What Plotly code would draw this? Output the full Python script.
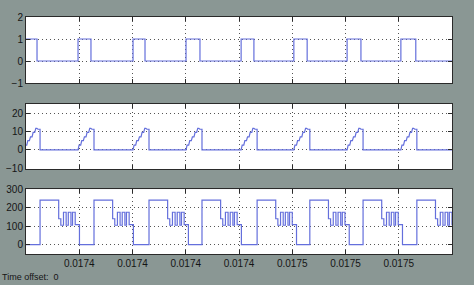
import plotly.graph_objects as go

# ---- data (x in grid units: 0..8, gridlines at 1..7) ----
TICK_POS = [1, 2, 3, 4, 5, 6, 7]
TICK_TEXT = ["0.0174", "0.0174", "0.0174", "0.0174", "0.0175", "0.0175", "0.0175"]

# panel 1: pulse rising / falling edges
RISE = [-0.036, 0.977, 2.01, 3.005, 4.04, 5.03, 6.03, 7.04]
FALL = [0.207, 1.22, 2.235, 3.267, 4.28, 5.28, 6.29, 7.32]

# panel 2: staircase ramp shape, relative to each rising edge
RAMP_T = [0.00, 0.02, 0.05, 0.07, 0.10, 0.12, 0.15, 0.17, 0.20, 0.22, 0.24, 0.26, 0.30, 0.30]
RAMP_Y = [0.0, 2.5, 2.5, 5.0, 5.0, 7.0, 7.0, 9.5, 9.5, 11.7, 11.7, 11.2, 11.2, 0.0]

# panel 3: step levels and switching times, relative to each rising edge
P3_T = [0.30, 0.65, 0.69, 0.74, 0.79, 0.83, 0.88, 0.91, 0.96, 1.04]
P3_Y = [240, 140, 105, 175, 105, 175, 105, 175, 108, 0]

LINE = "#646fdc"
BG = "#8a9794"

# ---- build traces ----
x1, y1 = [0.0], [1.0]
for r, f in zip(RISE, FALL):
    if r > 0:
        x1 += [r, r]
        y1 += [0, 1]
    x1 += [f, f]
    y1 += [1, 0]
x1.append(8.0)
y1.append(0)

x2, y2 = [], []
for r in RISE:
    x2 += [r + t for t in RAMP_T]
    y2 += RAMP_Y
x2.append(8.0)
y2.append(0)

x3, y3 = [0.0], [0]
for r in RISE:
    x3 += [r + t for t in P3_T]
    y3 += P3_Y

fig = go.Figure()
lw = 1.2
fig.add_trace(go.Scatter(x=x1, y=y1, mode="lines", line=dict(color=LINE, width=lw), xaxis="x", yaxis="y"))
fig.add_trace(go.Scatter(x=x2, y=y2, mode="lines", line=dict(color=LINE, width=lw), xaxis="x2", yaxis="y2"))
fig.add_trace(go.Scatter(x=x3, y=y3, mode="lines", line=dict(color=LINE, width=lw, shape="hv"), xaxis="x3", yaxis="y3"))

font = dict(family="Liberation Sans, Arial, sans-serif", size=10, color="#151515")
common_ax = dict(showline=True, linecolor="#2a2a2a", linewidth=1, mirror="ticks",
                 ticks="inside", ticklen=4, tickcolor="#2a2a2a",
                 showgrid=True, gridcolor="#555555", griddash="1px,3px", gridwidth=1,
                 zeroline=False, tickfont=font, fixedrange=True, automargin=False)

xcommon = dict(common_ax, range=[0, 8], tickvals=TICK_POS, ticktext=TICK_TEXT)
fig.update_layout(
    width=474, height=285,
    margin=dict(l=26, r=22, t=17, b=31),
    paper_bgcolor=BG, plot_bgcolor="white",
    showlegend=False,
    xaxis=dict(xcommon, domain=[0, 1], anchor="y", showticklabels=False),
    xaxis2=dict(xcommon, domain=[0, 1], anchor="y2", showticklabels=False),
    xaxis3=dict(xcommon, domain=[0, 1], anchor="y3", showticklabels=True),
    yaxis=dict(common_ax, domain=[0.7215, 1.0], range=[-1, 2], tickvals=[-1, 0, 1, 2], anchor="x"),
    yaxis2=dict(common_ax, domain=[0.3586, 0.633], range=[-10.5, 25], tickvals=[-10, 0, 10, 20], anchor="x2"),
    yaxis3=dict(common_ax, domain=[0.0, 0.274], range=[-50, 300], tickvals=[0, 100, 200, 300], anchor="x3"),
    annotations=[dict(text="Time offset:&nbsp;&nbsp;0", xref="paper", yref="paper",
                      x=-26 / 426, y=-23 / 237, xanchor="left", yanchor="middle",
                      showarrow=False, font=dict(family="Liberation Sans, Arial, sans-serif", size=9, color="#151515"))],
)

fig.write_html("out.html")
